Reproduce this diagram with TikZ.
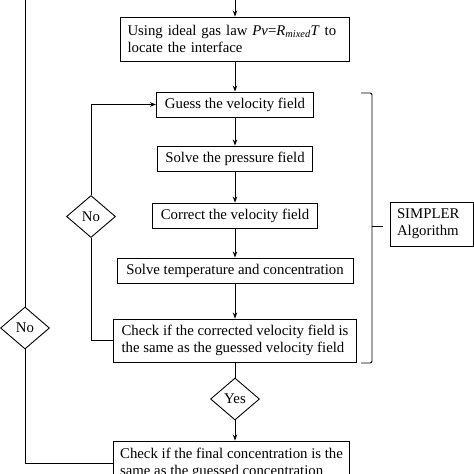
\documentclass[tikz,border=0pt]{standalone}
\usepackage{fontspec}
\setmainfont{Liberation Serif}
\usetikzlibrary{%
  positioning,arrows.meta,shapes.geometric}
\tikzset{
  stepbox/.style={draw,line width=0.9pt,font=\fontsize{14.8}{17}\selectfont,
    align=left,inner xsep=7pt,inner ysep=4pt,minimum height=25pt},
  choice/.style={draw,diamond,line width=0.9pt,font=\fontsize{14.8}{17}\selectfont,
    minimum width=49pt,minimum height=42pt,inner sep=0pt},
  flow/.style={line width=0.9pt,-{Stealth[length=6pt,width=4.5pt]}},
  link/.style={line width=0.9pt}
}

\begin{document}
\begin{tikzpicture}[x=1pt,y=-1pt]
  \clip (0,0) rectangle (474,474);
  \coordinate (entry) at (235,0);
  \coordinate (back) at (25,0);
  \node[stepbox,text width=215pt,minimum height=44pt] (using) at (235,39)
    {Using ideal gas law \textit{Pv}=\textit{R}\textsubscript{\textit{mixed}}\textit{T} to\\locate the interface};
  \node[stepbox,minimum width=157pt] (guess) at (235,104.5) {Guess the velocity field};
  \node[stepbox,minimum width=155pt] (press) at (235,158.5) {Solve the pressure field};
  \node[stepbox,minimum width=165pt] (corr)  at (235,215.5) {Correct the velocity field};
  \node[stepbox,minimum width=236pt] (temp)  at (235,270.5) {Solve temperature and concentration};
  \node[stepbox,minimum width=243pt,minimum height=43pt] (chk1) at (235,340.5)
    {Check if the corrected velocity field is\\the same as the guessed velocity field};
  \node[choice] (yes) at (235,399) {Yes};
  \node[stepbox,minimum width=233pt,minimum height=44pt] (chk2) at (231.5,463)
    {Check if the final concentration is the\\same as the guessed concentration};
  \node[choice] (no1) at (91,216.5) {No};
  \node[choice] (no2) at (25,328) {No};
  \node[stepbox,text width=69pt,minimum height=44pt] (simpler) at (431.5,224)
    {SIMPLER\\Algorithm};

  \draw[flow] (entry) -- (using);
  \draw[flow] (using.south -| guess) -- (guess);
  \foreach \a/\b in {guess/press,press/corr,corr/temp,temp/chk1}{
    \draw[flow] (\a) -- (\b);
  }
  \draw[link] (chk1) -- (yes);
  \draw[flow] (yes) -- (yes |- chk2.north);
  \draw[link] (chk1.west) -| (no1.south);
  \draw[flow] (no1.north) |- (guess.west);
  \draw[link] (chk2.west) -| (no2.south);
  \draw[link] (no2.north) -- (back);
  \draw[link,rounded corners=2pt] (361,93) -- (372,93) -- (372,363) -- (361,363);
  \draw[link] (372,226) -- (383,226);
\end{tikzpicture}
\end{document}
